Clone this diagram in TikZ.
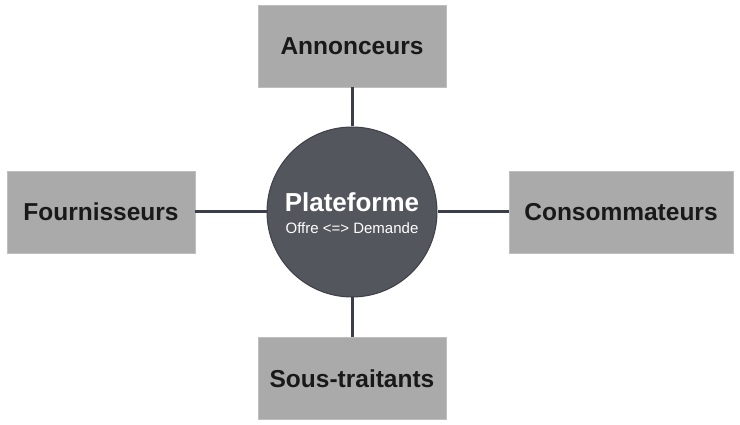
\documentclass[tikz,border=0pt]{standalone}
\usepackage{fontspec}
\setmainfont{Liberation Sans}
\definecolor{boxgray}{HTML}{A9AAA9}
\definecolor{boxedge}{HTML}{BDBEBD}
\definecolor{hubfill}{HTML}{54565E}
\definecolor{hubedge}{HTML}{3E4049}
\definecolor{linkcol}{HTML}{3A3E4A}
\tikzset{
  satbox/.style={draw=boxedge, line width=0.8pt, fill=boxgray, minimum height=82pt, inner sep=0pt,
    font=\bfseries\fontsize{24.5}{28}\selectfont, text=black!90},
  hub/.style={circle, draw=hubedge, line width=1pt, fill=hubfill, minimum size=170pt, inner sep=0pt, text=white, align=center},
  link/.style={draw=linkcol, line width=3pt}
}
\begin{document}
\begin{tikzpicture}[x=1pt,y=-1pt]
\useasboundingbox (0,0) rectangle (740,425);
\node[hub] (p) at (352,212) {};
\node[text=white, font=\bfseries\fontsize{26}{30}\selectfont, anchor=base] (pt) at (352,212) {Plateforme};
\node[text=white, font=\fontsize{15}{18}\selectfont, anchor=base] (ps) at (352,234) {Offre <=> Demande};
\node[satbox, minimum width=188pt] (a) at (352,46) {Annonceurs};
\node[satbox, minimum width=188pt] (f) at (101,212) {Fournisseurs};
\node[satbox, minimum width=224pt] (c) at (621,212) {Consommateurs};
\node[satbox, minimum width=188pt] (s) at (352,378.5) {Sous-traitants};
\draw[link] (a.south) -- (p.north);
\draw[link] (s.north) -- (p.south);
\draw[link] (f.east) -- (p.west);
\draw[link] (c.west) -- (p.east);
\end{tikzpicture}
\end{document}
